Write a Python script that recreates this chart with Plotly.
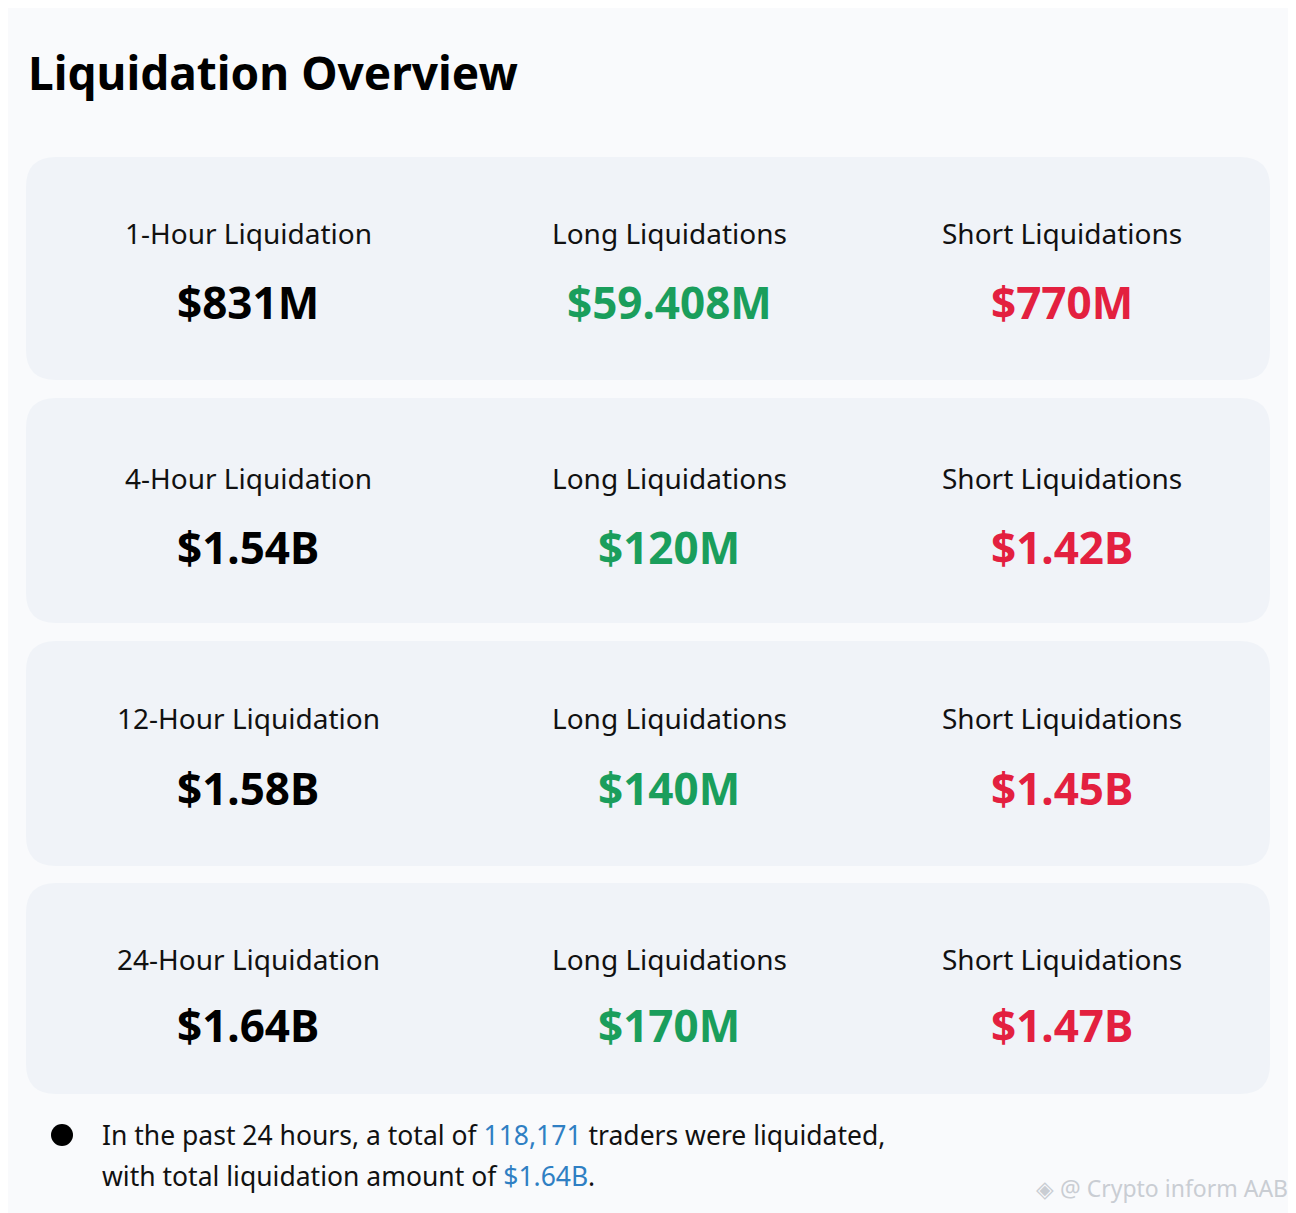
import plotly.graph_objects as go

periods = ["1-Hour Liquidation", "4-Hour Liquidation", "12-Hour Liquidation", "24-Hour Liquidation"]
totals = ["$831M", "$1.54B", "$1.58B", "$1.64B"]
longs = ["$59.408M", "$120M", "$140M", "$170M"]
shorts = ["$770M", "$1.42B", "$1.45B", "$1.47B"]
traders = "118,171"
total_24h = "$1.64B"

W, H = 1296, 1213
PAD = 8  # page body margin, the figure is drawn 8px in from the window corner
FONT = "Noto Sans"
GREEN = "#1a9e5c"
RED = "#e3203f"
BLUE = "#2f7fc3"
CARD = "#f0f3f8"

# card boxes (top, bottom) in window pixels
cards = [(157, 380), (398, 623), (641, 866), (883, 1094)]
label_y = [233, 478, 718, 959]
value_y = [302, 547, 788, 1025]
col_x = [248, 669, 1062]


def rounded_rect(x0, y0, x1, y1, r):
    return (f"M {x0+r},{y0} L {x1-r},{y0} Q {x1},{y0} {x1},{y0+r} "
            f"L {x1},{y1-r} Q {x1},{y1} {x1-r},{y1} L {x0+r},{y1} "
            f"Q {x0},{y1} {x0},{y1-r} L {x0},{y0+r} Q {x0},{y0} {x0+r},{y0} Z")


fig = go.Figure()
fig.add_trace(go.Scatter(x=[PAD, W], y=[PAD, H], mode="markers",
                         marker=dict(opacity=0), hoverinfo="skip", showlegend=False))

shapes = []
for top, bot in cards:
    shapes.append(dict(type="path", path=rounded_rect(26, top, 1270, bot, 30),
                       fillcolor=CARD, line=dict(width=0), layer="below"))
# bullet dot
shapes.append(dict(type="circle", x0=51, x1=73, y0=1124, y1=1146,
                   fillcolor="#000000", line=dict(width=0)))

ann = []
ann.append(dict(x=26, y=72, text="<b>Liquidation Overview</b>", xanchor="left",
                yanchor="middle", showarrow=False,
                font=dict(family=FONT, size=46, color="#000000")))

for i in range(len(periods)):
    labels = [periods[i], "Long Liquidations", "Short Liquidations"]
    values = [totals[i], longs[i], shorts[i]]
    colors = ["#000000", GREEN, RED]
    for j in range(3):
        ann.append(dict(x=col_x[j], y=label_y[i], text=labels[j], showarrow=False,
                        xanchor="center", yanchor="middle",
                        font=dict(family=FONT, size=28, color="#111111")))
        ann.append(dict(x=col_x[j], y=value_y[i], text=f"<b>{values[j]}</b>", showarrow=False,
                        xanchor="center", yanchor="middle",
                        font=dict(family=FONT, size=44, color=colors[j])))

ann.append(dict(x=100, y=1135, xanchor="left", yanchor="middle", showarrow=False,
                text=f"In the past 24 hours, a total of <span style='color:{BLUE}'>{traders}</span> traders were liquidated,",
                font=dict(family=FONT, size=26.5, color="#111111")))
ann.append(dict(x=100, y=1176, xanchor="left", yanchor="middle", showarrow=False,
                text=f"with total liquidation amount of <span style='color:{BLUE}'>{total_24h}</span>.",
                font=dict(family=FONT, size=26.5, color="#111111")))

# watermark
ann.append(dict(x=1290, y=1188, xanchor="right", yanchor="middle", showarrow=False,
                text="◈ @ Crypto inform AAB",
                font=dict(family=FONT, size=23, color="#c9cdd3")))

fig.update_layout(
    width=W - PAD, height=H - PAD,
    margin=dict(l=0, r=0, t=0, b=0),
    paper_bgcolor="#f9fafc", plot_bgcolor="#f9fafc",
    xaxis=dict(range=[PAD, W], visible=False, fixedrange=True),
    yaxis=dict(range=[H, PAD], visible=False, fixedrange=True),
    shapes=shapes, annotations=ann, showlegend=False,
)

fig.write_html("out.html")
